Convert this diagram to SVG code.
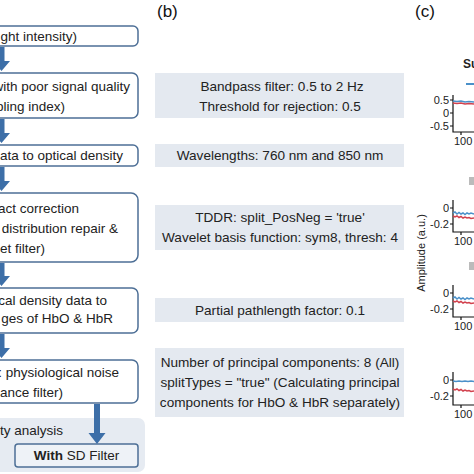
<svg xmlns="http://www.w3.org/2000/svg" width="474" height="474" viewBox="0 0 474 474">
<style>
.t{font-family:"Liberation Sans",Arial,sans-serif;font-size:13.5px;fill:#222}
.b{font-family:"Liberation Sans",Arial,sans-serif;font-size:13.6px;fill:#222;text-anchor:middle}
.lbl{font-family:"Liberation Sans",Arial,sans-serif;font-size:17px;fill:#111}
.tick{font-family:"Liberation Sans",Arial,sans-serif;font-size:11px;fill:#222;text-anchor:end}
.tk2{font-family:"Liberation Sans",Arial,sans-serif;font-size:11px;fill:#222}
.box{fill:#fff;stroke:#4d6f96;stroke-width:1.5}
.gbox{fill:#e4e9f0}
.arr{fill:#3d6fa8}
.ax{stroke:#111;stroke-width:1.2;fill:none}
.red{stroke:#d2424e;stroke-width:1.5;fill:none}
.blue{stroke:#4a90c9;stroke-width:1.5;fill:none}
</style>
<rect width="474" height="474" fill="#fff"/>

<g id="panel-a">
<g id="a1"><rect class="box" x="-100" y="26" width="238" height="20" rx="5"/><text class="t" x="77" y="40.5" text-anchor="end">ght intensity)</text></g>
<g id="a2"><rect class="box" x="-100" y="73" width="238" height="45" rx="6"/><text class="t" x="130" y="90.5" text-anchor="end">with poor signal quality</text><text class="t" x="65" y="110.5" text-anchor="end">pling index)</text></g>
<g id="a3"><rect class="box" x="-100" y="145" width="238" height="21" rx="5"/><text class="t" x="123" y="160" text-anchor="end">ata to optical density</text></g>
<g id="a4"><rect class="box" x="-100" y="193" width="238" height="69" rx="7"/><text class="t" x="79" y="212.5" text-anchor="end">act correction</text><text class="t" x="118" y="232.5" text-anchor="end">distribution repair &amp;</text><text class="t" x="45" y="253" text-anchor="end">et filter)</text></g>
<g id="a5"><rect class="box" x="-100" y="288" width="238" height="45" rx="6"/><text class="t" x="107" y="304.5" text-anchor="end">cal density data to</text><text class="t" x="113" y="322.5" text-anchor="end">ges of HbO &amp; HbR</text></g>
<g id="a6"><rect class="box" x="-100" y="360" width="238" height="43" rx="6"/><text class="t" x="119" y="376.5" text-anchor="end">: physiological noise</text><text class="t" x="63" y="396.5" text-anchor="end">ance filter)</text></g>
<g id="a7"><rect x="-100" y="418" width="245" height="54" rx="7" fill="#e6ebf2"/><text class="t" x="63" y="434.5" text-anchor="end">ty analysis</text></g>
<g id="a8"><rect x="15" y="444" width="123" height="23" rx="3" fill="#eef2f7" stroke="#4d6f96" stroke-width="1.5"/><text class="t" x="76.5" y="460" text-anchor="middle"><tspan font-weight="bold">With</tspan> SD Filter</text></g>
</g>

<g id="connectors">
<polygon class="arr" points="-1.5,47 4.5,47 4.5,61 10,61 1.5,71 -7,61 -1.5,61"/>
<polygon class="arr" points="-1.5,119 4.5,119 4.5,133 10,133 1.5,143 -7,133 -1.5,133"/>
<polygon class="arr" points="-1.5,167 4.5,167 4.5,181 10,181 1.5,191 -7,181 -1.5,181"/>
<polygon class="arr" points="-1.5,263 4.5,263 4.5,276 10,276 1.5,286 -7,276 -1.5,276"/>
<polygon class="arr" points="-1.5,334 4.5,334 4.5,348 10,348 1.5,358 -7,348 -1.5,348"/>
<polygon class="arr" points="94,404 100,404 100,433 105.5,433 97,444 88.5,433 94,433"/>
</g>

<g id="panel-b">
<text class="lbl" x="157" y="17">(b)</text>
<g id="b1"><rect class="gbox" x="155" y="73" width="249" height="45"/><text class="b" x="282" y="91">Bandpass filter: 0.5 to 2 Hz</text><text class="b" x="280" y="111">Threshold for rejection: 0.5</text></g>
<g id="b2"><rect class="gbox" x="155" y="144" width="249" height="23"/><text class="b" x="280" y="160">Wavelengths: 760 nm and 850 nm</text></g>
<g id="b3"><rect class="gbox" x="155" y="205" width="249" height="45"/><text class="b" x="280" y="222">TDDR: split_PosNeg = 'true'</text><text class="b" x="280" y="242">Wavelet basis function: sym8, thresh: 4</text></g>
<g id="b4"><rect class="gbox" x="155" y="298" width="249" height="24"/><text class="b" x="280" y="315">Partial pathlength factor: 0.1</text></g>
<g id="b5"><rect class="gbox" x="155" y="348" width="249" height="69"/><text class="b" x="280" y="367">Number of principal components: 8 (All)</text><text class="b" x="280" y="387">splitTypes = "true" (Calculating principal</text><text class="b" x="280" y="407">components for HbO &amp; HbR separately)</text></g>
</g>

<g id="panel-c">
<text class="lbl" x="415" y="17">(c)</text>
<text x="463" y="68" font-family="Liberation Sans,Arial,sans-serif" font-size="12" font-weight="bold" fill="#222">Su</text>
<line x1="466" y1="84" x2="474" y2="84" stroke="#4a90c9" stroke-width="2"/>
<g id="plot1">
<path class="ax" d="M453,95 V132 H474 M450,100 H453 M450,113 H453 M450,126 H453 M461,132 V135"/>
<text class="tick" x="449" y="104">0.5</text><text class="tick" x="449" y="117">0</text><text class="tick" x="449" y="130">-0.5</text>
<text class="tk2" x="454" y="145">100</text>
<polyline class="blue" points="453,101 457,101.5 461,101 465,102 469,101.5 474,102"/>
<polyline class="red" points="453,103 457,103.5 461,103 465,104 469,103.5 474,104"/>
</g>
<text x="425" y="253" transform="rotate(-90 425 253)" text-anchor="middle" font-family="Liberation Sans,Arial,sans-serif" font-size="11" fill="#222">Amplitude (a.u.)</text>
<rect x="469" y="177" width="5" height="8" fill="#bbb"/>
<g id="plot2">
<path class="ax" d="M453,200 V232 H474 M450,208 H453 M450,224 H453 M461,232 V235"/>
<text class="tick" x="449" y="212">0</text><text class="tick" x="449" y="228">-0.2</text>
<text class="tk2" x="454" y="245">100</text>
<polyline class="blue" points="453,213 455,212 457,214 459,212.5 461,214 463,213 465,214.5 467,213 469,214 471,213 474,214"/>
<polyline class="red" points="453,216 455,217 457,216 459,217.5 461,216.5 463,218 465,217 467,218 469,217.5 471,218.5 474,218"/>
</g>
<rect x="469" y="262" width="5" height="8" fill="#bbb"/>
<g id="plot3">
<path class="ax" d="M453,285 V317 H474 M450,293 H453 M450,309 H453 M461,317 V320"/>
<text class="tick" x="449" y="297">0</text><text class="tick" x="449" y="313">-0.2</text>
<text class="tk2" x="454" y="330">100</text>
<polyline class="blue" points="453,298 455,297 457,299 459,297.5 461,299 463,298 465,299.5 467,298 469,299 471,298 474,299"/>
<polyline class="red" points="453,301 455,302 457,301 459,302.5 461,301.5 463,303 465,302 467,303 469,302.5 471,303.5 474,303"/>
</g>
<g id="plot4">
<path class="ax" d="M453,372 V405 H474 M450,380 H453 M450,396 H453 M461,405 V408"/>
<text class="tick" x="449" y="384">0</text><text class="tick" x="449" y="400">-0.2</text>
<text class="tk2" x="454" y="418">100</text>
<polyline class="blue" points="453,381 456,381.5 459,381 462,381.5 465,381 468,381.5 471,381 474,381.5"/>
<polyline class="red" points="453,389 455,390 457,389 459,390.5 461,389.5 463,391 465,390 467,391 469,390.5 471,391.5 474,391"/>
</g>
</g>
</svg>
